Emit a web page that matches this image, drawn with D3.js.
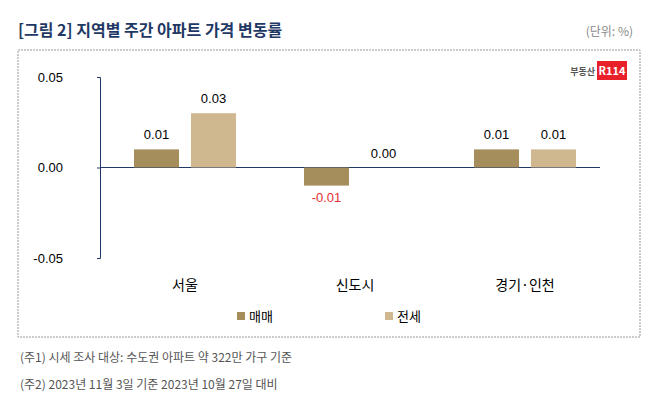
<!DOCTYPE html><html><head><meta charset="utf-8"><script src="https://cdn.jsdelivr.net/npm/d3@7"></script>
<style>body{margin:0;background:#fff}text{font-family:"Noto Sans CJK KR","Noto Sans",sans-serif}text.num{font-family:"Liberation Sans",Arial,sans-serif}</style></head><body><svg id="c" width="658" height="415"></svg>
<script>
const categories=["서울","신도시","경기·인천"];
const seriesNames=["매매","전세"];
const sale=[0.01,-0.01,0.01];
const jeonse=[0.03,0.00,0.01];
const yTicks=[-0.05,0.00,0.05];
const colors=["#a58d5c","#cfb88f"];
const fmt=v=>v.toFixed(2);
const svg=d3.select("#c");
svg.append("text").attr("x",18).attr("y",36).attr("font-size",16).attr("font-weight",700).attr("fill","#1f3864").text("[그림 2] 지역별 주간 아파트 가격 변동률");
svg.append("text").attr("x",633).attr("y",36).attr("text-anchor","end").attr("font-size",12).attr("fill","#888").text("(단위: %)");
svg.append("rect").attr("x",18).attr("y",50).attr("width",622).attr("height",287).attr("fill","none").attr("stroke","#999").attr("stroke-dasharray","2,1");
svg.append("text").attr("x",595).attr("y",75).attr("text-anchor","end").attr("font-size",9).attr("fill","#555").attr("font-weight",700).text("부동산");
svg.append("rect").attr("x",597).attr("y",61).attr("width",30).attr("height",19).attr("fill","#e8202a");
svg.append("text").attr("x",612).attr("y",75).attr("text-anchor","middle").attr("font-size",11).attr("fill","#fff").attr("font-weight",700).text("R114");
const y=d3.scaleLinear().domain([-0.05,0.05]).range([258,77]);
const x=d3.scaleBand().domain(categories).range([100,610]);
const ax=svg.append("g").attr("transform","translate(100,0)").call(d3.axisLeft(y).tickValues(yTicks).tickFormat(fmt).tickSize(3).tickPadding(34));
ax.select(".domain").attr("stroke","#1f3864");ax.selectAll("line").attr("stroke","#1f3864");
ax.selectAll("text").attr("class","num").attr("font-size",13).attr("fill","#000");
svg.append("line").attr("x1",100).attr("x2",600).attr("y1",y(0)).attr("y2",y(0)).attr("stroke","#1f3864");
const bw=45,gap=12;
[sale,jeonse].forEach((s,i)=>{
 s.forEach((v,j)=>{
  const bx=x(categories[j])+x.bandwidth()/2+(i===0?-(bw+gap/2):gap/2);
  svg.append("rect").attr("x",bx).attr("y",Math.min(y(v),y(0))).attr("width",bw).attr("height",Math.abs(y(v)-y(0))).attr("fill",colors[i]);
  svg.append("text").attr("class","num").attr("x",bx+bw/2).attr("y",v<0?y(v)+16:y(v)-10).attr("text-anchor","middle").attr("font-size",13).attr("fill",v<0?"#e53030":"#000").text(fmt(v));
 });
});
categories.forEach(c=>svg.append("text").attr("x",x(c)+x.bandwidth()/2).attr("y",290).attr("text-anchor","middle").attr("font-size",14).attr("fill","#000").text(c));
[237,385].forEach((lx,i)=>{
 svg.append("rect").attr("x",lx).attr("y",312).attr("width",8).attr("height",8).attr("fill",colors[i]);
 svg.append("text").attr("x",lx+12).attr("y",321).attr("font-size",13).attr("fill","#000").text(seriesNames[i]);
});
svg.append("text").attr("x",20).attr("y",362).attr("font-size",12).attr("fill","#555").text("(주1) 시세 조사 대상: 수도권 아파트 약 322만 가구 기준");
svg.append("text").attr("x",20).attr("y",389).attr("font-size",12).attr("fill","#555").text("(주2) 2023년 11월 3일 기준 2023년 10월 27일 대비");
</script></body></html>
